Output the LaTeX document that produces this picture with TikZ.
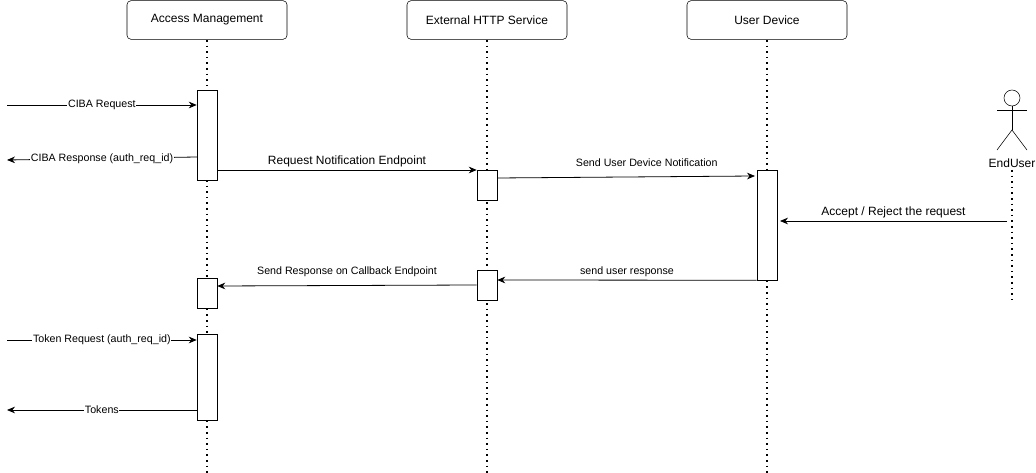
\documentclass[tikz,border=0pt]{standalone}
\usepackage{fontspec}
\setmainfont{Liberation Sans}
\usetikzlibrary{arrows.meta}
\begin{document}
\begin{tikzpicture}[x=0.75pt,y=-0.75pt,
  head/.style={draw,rounded corners=3pt,minimum width=120pt,minimum height=29pt,font=\fontsize{9}{10}\selectfont,fill=white},
  act/.style={draw,fill=white,minimum width=15pt,inner sep=0pt},
  life/.style={line width=1.1pt,dash pattern=on 1.2pt off 3pt},
  msg/.style={-{Stealth[length=6pt,width=5pt]},line width=0.6pt},
  lbl/.style={font=\fontsize{8}{9}\selectfont,fill=white,inner sep=0.5pt},
  albl/.style={font=\fontsize{8}{9}\selectfont,above,inner sep=2pt},
  blbl/.style={font=\fontsize{9}{10}\selectfont,above,inner sep=2pt}]
\useasboundingbox (0,0) rectangle (1036,473);
% lifelines
\coordinate (am0) at (207,40); \coordinate (am1) at (207,473);
\coordinate (eh0) at (487,40); \coordinate (eh1) at (487,473);
\coordinate (ud0) at (767,40); \coordinate (ud1) at (767,473);
\coordinate (eu0) at (1012,170); \coordinate (eu1) at (1012,300);
\draw[life] (am0)--(am1); \draw[life] (eh0)--(eh1); \draw[life] (ud0)--(ud1); \draw[life] (eu0)--(eu1);
\node[head] (am) at (207,20) {Access Management};
\node[head] (eh) at (487,20) {External HTTP Service};
\node[head] (ud) at (767,20) {User Device};
% activations
\node[act,minimum height=67.5pt] (a1) at (207,135) {};
\node[act,minimum height=22.5pt] (a2) at (207,293) {};
\node[act,minimum height=64.5pt] (a3) at (207,377) {};
\node[act,minimum height=22.5pt] (e1) at (487,185) {};
\node[act,minimum height=22.5pt] (e2) at (487,285) {};
\node[act,minimum height=82.5pt] (u1) at (767,225) {};
% actor
\node[draw,circle,minimum size=12pt,inner sep=0pt] (euh) at (1012,98) {};
\coordinate (eub) at (1012,130);
\draw (euh.south)--(eub);
\coordinate (arl) at (997,110); \coordinate (arr) at (1027,110);
\draw (arl)--(arr);
\coordinate (ll) at (997,150); \coordinate (lr) at (1027,150);
\draw (ll)--(eub)--(lr);
\node[font=\fontsize{9}{10}\selectfont] (eun) at (1012,163) {EndUser};
% free ends
\coordinate (l1) at (7,105); \coordinate (l2) at (7,160);
\coordinate (l3) at (7,340); \coordinate (l4) at (7,410);
\coordinate (eu2) at (1007,221);
% messages
\draw[msg] (l1) -- node[lbl]{CIBA Request} (a1.west |- l1);
\draw[msg] (197,157) -- node[lbl]{CIBA Response (auth\_req\_id)} (l2);
\draw[msg] (a1.east |- 0,170) -- node[blbl]{Request Notification Endpoint} (e1.west |- 0,170);
\draw[msg] (e1.east |- 0,178) -- node[albl,pos=0.58,yshift=5pt]{Send User Device Notification} (755,176);
\draw[msg] (eu2) -- node[blbl]{Accept / Reject the request} (780,221);
\draw[msg] (u1.south west) -- node[albl]{send user response} (e2.east |- 0,280);
\draw[msg] (e2.west |- 0,285) -- node[albl,yshift=4pt]{Send Response on Callback Endpoint} (a2.east |- 0,286);
\draw[msg] (l3) -- node[lbl]{Token Request (auth\_req\_id)} (a3.west |- l3);
\draw[msg] (a3.west |- l4) -- node[lbl]{Tokens} (l4);
\end{tikzpicture}
\end{document}
